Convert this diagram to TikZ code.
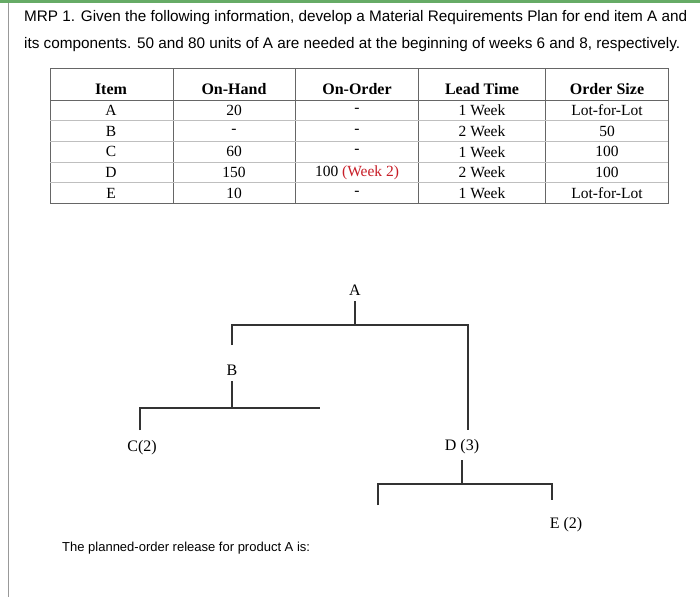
\documentclass[tikz,border=0pt]{standalone}
\usepackage{fontspec}
\setmainfont{Liberation Serif}
\newfontfamily\hdr{Liberation Sans}
\definecolor{wk}{RGB}{200,30,40}
\begin{document}
\begin{tikzpicture}[x=1pt,y=-1pt,
  cell/.style={font=\fontsize{15.5}{17}\selectfont,inner sep=0pt,anchor=center},
  hd/.style={cell,font=\fontsize{16}{18}\selectfont\bfseries},
  lbl/.style={font=\fontsize{16}{18}\selectfont,inner sep=0pt},
  tl/.style={line width=1.2pt,black!80}]
\useasboundingbox[fill=white] (0,0) rectangle (700,597);
\fill[green!45!black!60] (0,0) rectangle (700,3);
\draw[black!40] (8,3) -- (8,597);
\node[anchor=west,inner sep=0pt,font=\hdr\fontsize{15.3}{17}\selectfont] (t1) at (24,18) {MRP 1. Given the following information, develop a Material Requirements Plan for end item A and};
\node[anchor=west,inner sep=0pt,font=\hdr\fontsize{15.3}{17}\selectfont] (t2) at (24,45) {its components. 50 and 80 units of A are needed at the beginning of weeks 6 and 8, respectively.};
% table
\draw[black!60] (50,68) rectangle (668,203);
\foreach \x in {173,295,418,545} \draw[black!60] (\x,68) -- (\x,203);
\draw[black!60] (50,100) -- (668,100);
\foreach \y in {120,141,162,182} \draw[black!25] (50,\y) -- (668,\y);
\foreach \t/\x in {Item/111,On-Hand/234,On-Order/357,Lead Time/482,Order Size/607}
  \node[hd] at (\x,89) {\t};
\foreach \a/\b/\c/\d/\e [count=\i] in {A/20/-/1 Week/Lot-for-Lot,B/-/-/2 Week/50,C/60/-/1 Week/100,D/150/{100 \textcolor{wk}{(Week 2)}}/2 Week/100,E/10/-/1 Week/Lot-for-Lot}{
  \pgfmathsetmacro\yy{90+20.6*\i}
  \node[cell] at (111,\yy) {\a};
  \node[cell] at (234,\yy) {\b};
  \node[cell] at (357,\yy) {\c};
  \node[cell] at (482,\yy) {\d};
  \node[cell] at (607,\yy) {\e};
}
% tree
\node[lbl] (A) at (355,290) {A};
\node[lbl] (B) at (232,370) {B};
\node[lbl] (C) at (142,448) {C(2)};
\node[lbl] (D) at (462,447) {D (3)};
\node[lbl] (E) at (566,525) {E (2)};
\coordinate (a1) at (355,325);
\draw[tl] (A.south) ++(0,6) -- (a1);
\draw[tl] (232,345) -- (232,325) -- (468,325) -- (468,430);
\draw[tl] (B.south) ++(0,6) -- (232,408);
\draw[tl] (140,430) -- (140,408) -- (320,408);
\draw[tl] (D.south) ++(0,6) -- (462,484);
\draw[tl] (378,505) -- (378,484) -- (552,484) -- (552,500);
\node[anchor=west,inner sep=0pt,font=\hdr\fontsize{13}{15}\selectfont] (bt) at (62,548) {The planned-order release for product A is:};
\end{tikzpicture}
\end{document}
